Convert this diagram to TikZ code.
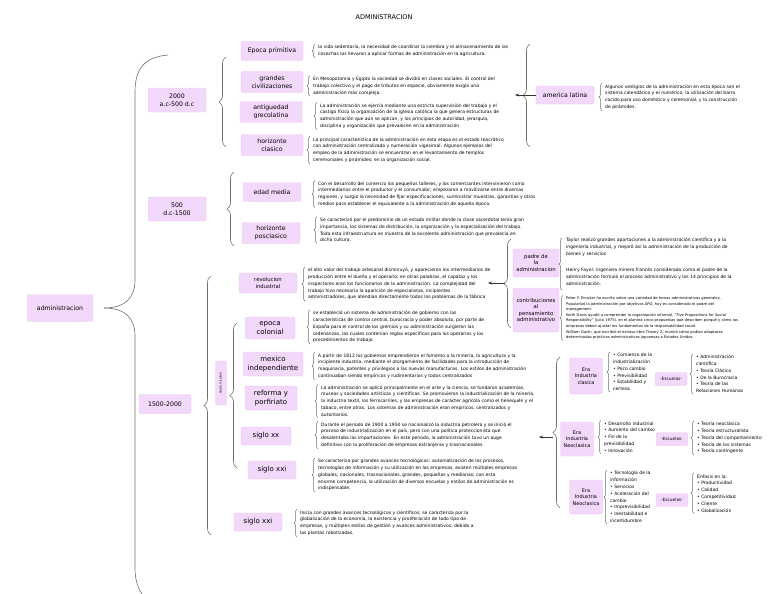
\documentclass[tikz,border=0pt]{standalone}
\usepackage{fontspec}
\setmainfont{DejaVu Sans}
\usetikzlibrary{decorations.pathreplacing,arrows.meta}
\definecolor{boxc}{RGB}{242,216,250}
\definecolor{linec}{RGB}{110,110,110}
\newcommand\txtf{\fontsize{4.5}{6.8}\selectfont}
\newcommand\smf{\fontsize{3.7}{5.6}\selectfont}
\newcommand\boxf{\fontsize{6.2}{7.6}\selectfont}
\newcommand\lbr[1]{\draw[br] ([xshift=-3pt,yshift=-1pt]#1.south west) -- ([xshift=-3pt,yshift=1pt]#1.north west);}
\begin{document}
\begin{tikzpicture}[x=1pt,y=-1pt,
  box/.style={fill=boxc,draw=boxc!92!purple,rounded corners=2pt,align=center,font=\boxf,inner sep=2pt},
  txt/.style={anchor=west,align=left,font=\txtf,inner sep=0pt},
  br/.style={draw=linec,line width=0.5pt,decorate,decoration={brace,amplitude=3pt}},
  gbr/.style={draw=linec,line width=0.6pt,decorate,decoration={brace,amplitude=7pt}},
  arr/.style={draw=black!80,line width=0.7pt,-{Stealth[length=4pt]}}]
\path[use as bounding box] (0,0) rectangle (768,594);
\node[font=\fontsize{6.5}{8}\selectfont] (title) at (384,17) {ADMINISTRACION};
% root
\node[box,minimum width=66pt,minimum height=27pt] (adm) at (60,308) {administracion};
\draw[linec,line width=0.6pt] (168,55) .. controls (145,57) and (135,68) .. (135,92) -- (135,280) .. controls (135,298) and (125,308) .. (104,308);
\draw[linec,line width=0.6pt] (104,308) .. controls (125,308) and (135,318) .. (135,336) -- (135,568) .. controls (135,580) and (138,588) .. (142,594);
% periods
\node[box,minimum width=58pt,minimum height=24pt] (p1) at (177,100) {2000\\a.c-500 d.c};
\node[box,minimum width=58pt,minimum height=24pt] (p2) at (177,209) {500\\d.c-1500};
\node[box,minimum width=52pt,minimum height=19pt] (p3) at (165,404) {1500-2000};
\draw[gbr] (226,147) -- (226,57);
\draw[gbr] (234,246) -- (234,172);
\draw[gbr] (211,535) -- (211,276);
% group 1
\node[box,minimum width=62pt,minimum height=19pt] (a1) at (272,51) {Epoca primitiva};
\node[box,minimum width=62pt,minimum height=21pt] (a2) at (272,82) {grandes\\civilizaciones};
\node[box,minimum width=62pt,minimum height=21pt] (a3) at (271,112) {antiguedad\\grecolatina};
\node[box,minimum width=62pt,minimum height=21pt] (a4) at (272,145) {horizonte\\clasico};
\node[txt] (t1) at (318,51) {la vida sedentaria, la necesidad de coordinar la siembra y el almacenamiento de las\\cosechas los llevaron a aplicar formas de administración en la agricultura.};
\node[txt] (t2) at (313,86) {En Mesopotamia y Egipto la sociedad se dividió en clases sociales. El control del\\trabajo colectivo y el pago de tributos en especie, obviamente exigía una\\administración más compleja.};
\node[txt] (t3) at (320,116) {La administración se ejercía mediante una estricta supervisión del trabajo y el\\castigo físico la organización de la iglesia católica la que genera estructuras de\\administración que aún se aplican, y los principios de autoridad, jerarquía,\\disciplina y organización que prevalecen en la administración};
\node[txt] (t4) at (313,150) {La principal característica de la administración en esta etapa es el estado teocrático\\con administración centralizada y numeración vigesimal. Algunos ejemplos del\\empleo de la administración se encuentran en el levantamiento de templos\\ceremoniales y pirámides; en la organización social.};
\lbr{t1}\lbr{t2}\lbr{t3}\lbr{t4}
\draw[gbr] (530,147) -- (530,44);
\node[box,minimum width=58pt,minimum height=18pt] (am) at (565,95) {america latina};
\coordinate (amt) at (515,95);
\draw[arr] (am.west) -- (amt);
\node[txt] (tam) at (605,97) {Algunos vestigios de la administración en esta época son el\\sistema calendárico y el numérico; la utilización del barro\\cocido para uso doméstico y ceremonial, y la construcción\\de pirámides.};
\lbr{tam}
% group 2
\node[box,minimum width=58pt,minimum height=19pt] (b1) at (272,192) {edad media};
\node[box,minimum width=58pt,minimum height=21pt] (b2) at (271,233) {horizonte\\posclasico};
\node[txt] (tb1) at (318,194) {Con el desarrollo del comercio los pequeños talleres, y los comerciantes intervinieron como\\intermediarios entre el productor y el consumidor; empezaron a movilizarse entre diversas\\regiones, y surgió la necesidad de fijar especificaciones, suministrar muestras, garantías y otros\\medios para establecer el equivalente a la administración de aquella época.};
\node[txt] (tb2) at (320,230) {Se caracterizó por el predominio de un estado militar donde la clase sacerdotal tenía gran\\importancia, los sistemas de distribución, la organización y la especialización del trabajo.\\Toda esta infraestructura es muestra de la excelente administración que prevalecía en\\dicha cultura.};
\lbr{tb1}\lbr{tb2}
% group 3
\node[box,minimum width=58pt,minimum height=20pt,font=\fontsize{5.3}{6.5}\selectfont] (c1) at (268,283) {revolucion\\industrial};
\node[txt] (tc1) at (308,284) {el alto valor del trabajo artesanal disminuyó, y aparecieron los intermediarios de\\producción entre el dueño y el operario; en otras palabras, el capataz y los\\inspectores eran los funcionarios de la administración. La complejidad del\\trabajo hizo necesaria la aparición de especialistas, incipientes\\administradores, que atendían directamente todos los problemas de la fábrica};
\lbr{tc1}
\node[box,minimum width=11pt,minimum height=44pt,inner sep=1pt] (al) at (221,383) {};
\node[rotate=-90,font=\fontsize{3}{4}\selectfont] (alt) at (al) {america latina};
\draw[gbr] (237,468) -- (237,323);
\node[box,minimum width=50pt,minimum height=22pt,font=\fontsize{7}{8.5}\selectfont] (d1) at (270,328) {epoca\\colonial};
\node[box,minimum width=60pt,minimum height=24pt,font=\fontsize{7}{8.5}\selectfont] (d2) at (273,364) {mexico\\independiente};
\node[box,minimum width=52pt,minimum height=24pt,font=\fontsize{7}{8.5}\selectfont] (d3) at (271,398) {reforma y\\porfiriato};
\node[box,minimum width=50pt,minimum height=18pt,font=\fontsize{7}{8.5}\selectfont] (d4) at (266,436) {siglo xx};
\node[box,minimum width=48pt,minimum height=18pt,font=\fontsize{7}{8.5}\selectfont] (d5) at (272,470) {siglo xxi};
\node[box,minimum width=48pt,minimum height=18pt,font=\fontsize{7}{8.5}\selectfont] (e1) at (258,522) {siglo xxi};
\node[txt] (td1) at (313,327) {se estableció un sistema de administración de gobierno con las\\características de control central, burocracia y poder absoluto, por parte de\\España para el control de los gremios y su administración surgieron las\\ordenanzas, las cuales contenían reglas específicas para los operarios y los\\procedimientos de trabajo.};
\node[txt] (td2) at (318,366) {A partir de 1812 los gobiernos emprendieron el fomento a la minería, la agricultura y la\\incipiente industria, mediante el otorgamiento de facilidades para la introducción de\\maquinaria, patentes y privilegios a las nuevas manufacturas. Los estilos de administración\\continuaban siendo empíricos y rudimentarios y todos centralizados};
\node[txt] (td3) at (321,401) {La administración se aplicó principalmente en el arte y la ciencia, se fundaron academias,\\museos y sociedades artísticas y científicas. Se promovieron la industrialización de la minería,\\la industria textil, los ferrocarriles, y las empresas de carácter agrícola como el henequén y el\\tabaco, entre otras. Los sistemas de administración eran empíricos, centralizados y\\autoritarios.};
\node[txt] (td4) at (321,435) {Durante el periodo de 1900 a 1950 se nacionalizó la industria petrolera y se inició el\\proceso de industrialización en el país, pero con una política proteccionista que\\desalentaba las importaciones. En este periodo, la administración tuvo un auge\\definitivo con la proliferación de empresas extranjeras y trasnacionales.};
\node[txt] (td5) at (318,475) {Se caracteriza por grandes avances tecnológicos: automatización de los procesos,\\tecnologías de información y su utilización en las empresas, existen múltiples empresas\\globales, nacionales, trasnacionales, grandes, pequeñas y medianas; con esta\\enorme competencia, la utilización de diversos escuelas y estilos de administración es\\indispensable.};
\node[txt] (te1) at (300,523) {Inicia con grandes avances tecnológicos y científicos; se caracteriza por la\\globalización de la economía, la existencia y proliferación de todo tipo de\\empresas, y múltiples estilos de gestión y avances administrativos, debido a\\las plantas robotizadas.};
\lbr{td1}\lbr{td2}\lbr{td3}\lbr{td4}\lbr{td5}\lbr{te1}
% pedro / contribuciones
\draw[gbr] (511,328) -- (511,239);
\coordinate (pt) at (488,283);
\draw[arr] (505,283) -- (pt);
\node[box,minimum width=46pt,minimum height=28pt,font=\fontsize{5.3}{6.5}\selectfont] (f1) at (536,263) {padre de\\la\\administracion};
\node[box,minimum width=46pt,minimum height=44pt,font=\fontsize{5.3}{6.5}\selectfont] (f2) at (536,310) {contribuciones\\al\\pensamiento\\administrativo};
\node[txt] (tf1) at (566,247) {Taylor realizó grandes aportaciones a la administración científica y a la\\ingeniería industrial, y mejoró así la administración de la producción de\\bienes y servicios};
\node[txt] (tf2) at (566,277) {Henry Fayol: ingeniero minero francés considerado como el padre de la\\administración formuló el proceso administrativo y los 14 principios de la\\administración.};
\node[txt,font=\smf] (tf3) at (566,318) {Peter F. Drucker ha escrito sobre una variedad de temas administrativos generales,\\Popularizó la administración por objetivos APO, hoy es considerado el padre del\\management.\\Keith Davis ayudó a comprender la organización informal, "Five Propositions for Social\\Responsibility" (julio 1975), en el plantea cinco propuestas que describen porqué y cómo las\\empresas deben ajustar los fundamentos de la responsabilidad social.\\William Ouchi, que escribió el exitoso libro Theory Z, mostró cómo podían adaptarse\\determinadas prácticas administrativas japonesas a Estados Unidos.};
\draw[br] (562,290) -- (562,238);
\lbr{tf3}
% eras
\draw[gbr] (560,508) -- (560,357);
\coordinate (et) at (539,437);
\draw[arr] (553,437) -- (et);
\node[box,minimum width=33pt,minimum height=36pt,font=\fontsize{5}{6.3}\selectfont] (g1) at (586,376) {Era\\Industria\\clasica};
\node[box,minimum width=33pt,minimum height=34pt,font=\fontsize{5}{6.3}\selectfont] (g2) at (577,439) {Era\\Industria\\Neoclasica};
\node[box,minimum width=33pt,minimum height=34pt,font=\fontsize{5}{6.3}\selectfont] (g3) at (586,497) {Era\\Industria\\Neoclasica};
\node[txt] (h1) at (613,372) {• Comienzo de la\\industrialización\\• Poco cambio\\• Previsibilidad\\• Estabilidad y\\certeza};
\node[txt] (h2) at (604,437) {• Desarrollo industrial\\• Aumento del cambio\\• Fin de la\\previsibilidad\\• Innovación};
\node[txt] (h3) at (610,497) {• Tecnología de la\\información\\• Servicios\\• Aceleración del\\cambio\\• Imprevisibilidad\\• Inestabilidad e\\incertidumbre};
\lbr{h1}\lbr{h2}\lbr{h3}
\node[box,minimum width=32pt,minimum height=13pt,font=\fontsize{4.3}{5}\selectfont] (s1) at (671,379) {-Escuelas-};
\node[box,minimum width=32pt,minimum height=13pt,font=\fontsize{4.3}{5}\selectfont] (s2) at (672,439) {-Escuelas-};
\node[box,minimum width=32pt,minimum height=13pt,font=\fontsize{4.3}{5}\selectfont] (s3) at (672,500) {-Escuelas-};
\node[txt] (k1) at (696,374) {• Administración\\científica\\• Teoría Clásica\\• De la Burocracia\\• Teoría de las\\Relaciones Humanas};
\node[txt] (k2) at (697,438) {• Teoría neoclásica\\• Teoría estructuralista\\• Teoría del comportamiento\\• Teoría de los sistemas\\• Teoría contingente};
\node[txt] (k3) at (697,493) {Énfasis en la:\\• Productividad\\• Calidad\\• Competitividad\\• Cliente\\• Globalización};
\lbr{k1}\lbr{k2}\lbr{k3}
\end{tikzpicture}
\end{document}
